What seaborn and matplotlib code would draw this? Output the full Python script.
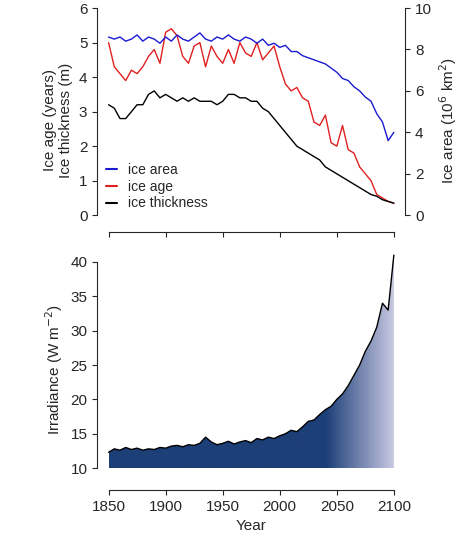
import matplotlib
matplotlib.use("Agg")
import matplotlib.pyplot as plt
import numpy as np
import seaborn as sns
from matplotlib.colors import LinearSegmentedColormap
from matplotlib.patches import Polygon

sns.set_style("ticks")
plt.rcParams["font.family"] = ["Liberation Sans", "DejaVu Sans"]

years = list(range(1850, 2101, 5))
ice_area = [8.6, 8.5, 8.6, 8.4, 8.5, 8.7, 8.4, 8.6, 8.5, 8.3, 8.6, 8.4, 8.7, 8.5,
            8.4, 8.6, 8.8, 8.5, 8.4, 8.6, 8.5, 8.7, 8.5, 8.4, 8.6, 8.5, 8.3, 8.5,
            8.2, 8.3, 8.1, 8.2, 7.9, 7.9, 7.7, 7.6, 7.5, 7.4, 7.3, 7.1, 6.9, 6.6,
            6.5, 6.2, 6.0, 5.7, 5.5, 4.9, 4.5, 3.6, 4.0]
ice_age = [5.0, 4.3, 4.1, 3.9, 4.2, 4.1, 4.3, 4.6, 4.8, 4.4, 5.3, 5.4, 5.2, 4.6,
           4.4, 4.9, 5.0, 4.3, 4.9, 4.6, 4.4, 4.8, 4.4, 5.0, 4.7, 4.6, 5.0, 4.5,
           4.7, 4.9, 4.3, 3.8, 3.6, 3.7, 3.4, 3.3, 2.7, 2.6, 2.9, 2.1, 2.0, 2.6,
           1.9, 1.8, 1.4, 1.2, 1.0, 0.6, 0.5, 0.4, 0.35]
ice_thick = [3.2, 3.1, 2.8, 2.8, 3.0, 3.2, 3.2, 3.5, 3.6, 3.4, 3.5, 3.4, 3.3, 3.4,
             3.3, 3.4, 3.3, 3.3, 3.3, 3.2, 3.3, 3.5, 3.5, 3.4, 3.4, 3.3, 3.3, 3.1,
             3.0, 2.8, 2.6, 2.4, 2.2, 2.0, 1.9, 1.8, 1.7, 1.6, 1.4, 1.3, 1.2, 1.1,
             1.0, 0.9, 0.8, 0.7, 0.6, 0.55, 0.45, 0.4, 0.35]
irradiance = [12.3, 12.8, 12.6, 13.0, 12.7, 12.9, 12.6, 12.8, 12.7, 13.0, 12.9, 13.2,
              13.3, 13.1, 13.4, 13.3, 13.6, 14.5, 13.8, 13.4, 13.6, 13.9, 13.5, 13.8,
              14.0, 13.7, 14.3, 14.1, 14.5, 14.3, 14.7, 15.0, 15.5, 15.3, 16.0, 16.8,
              17.0, 17.8, 18.5, 19.0, 20.0, 20.8, 22.0, 23.5, 25.0, 27.0, 28.5, 30.5,
              34.0, 33.0, 41.0]

fig = plt.figure(figsize=(4.74, 5.35), dpi=100)
ax1 = fig.add_axes([0.205, 0.566, 0.65, 0.419])
ax2 = ax1.twinx()
ax3 = fig.add_axes([0.205, 0.084, 0.65, 0.452])

sns.lineplot(x=years, y=ice_age, ax=ax1, color="#e02020", lw=1, legend=False)
sns.lineplot(x=years, y=ice_thick, ax=ax1, color="black", lw=1, legend=False)
sns.lineplot(x=years, y=ice_area, ax=ax2, color="#1a1ad0", lw=1, legend=False)

for a in (ax1, ax2, ax3):
    a.set_xlim(1840, 2110)
    a.spines["top"].set_visible(False)
ax1.set_ylim(-0.49, 6)
ax2.set_ylim(-0.82, 10)
ax1.set_yticks(range(0, 7))
ax2.set_yticks(range(0, 11, 2))
ax1.set_xticks(range(1850, 2101, 50))
ax1.set_xticklabels([])
ax1.spines["right"].set_visible(False)
ax1.spines["bottom"].set_bounds(1850, 2100)
ax1.spines["left"].set_bounds(0, 6)
ax2.spines["left"].set_visible(False)
ax2.spines["bottom"].set_visible(False)
ax2.spines["right"].set_bounds(0, 10)
ax1.set_ylabel("Ice age (years)\nIce thickness (m)", fontsize=11)
ax2.set_ylabel("Ice area (10$^6$ km$^2$)", fontsize=11)

handles = [plt.Line2D([], [], color="#1a1ad0"),
           plt.Line2D([], [], color="#e02020"),
           plt.Line2D([], [], color="black")]
ax1.legend(handles, ["ice area", "ice age", "ice thickness"], loc="lower left",
           bbox_to_anchor=(0.0, 0.06), frameon=False, fontsize=10,
           handlelength=0.8, borderaxespad=0.2, labelspacing=0.2)

# bottom: irradiance with gradient fill
ax3.set_ylim(6.8, 42)
cmap = LinearSegmentedColormap.from_list("irr", ["#1d3f78", "#1d3f78", "#c9c9e3"])
img = ax3.imshow(np.interp(np.linspace(1850, 2100, 256), [1850, 2040, 2100], [0, 0.5, 1]).reshape(1, -1),
                 extent=[1850, 2100, 10, 42], aspect="auto", cmap=cmap, vmin=0, vmax=1, zorder=1)
poly = Polygon(list(zip(years, irradiance)) + [(2100, 10), (1850, 10)], closed=True,
               transform=ax3.transData, facecolor="none", edgecolor="none")
ax3.add_patch(poly)
img.set_clip_path(poly)
sns.lineplot(x=years, y=irradiance, ax=ax3, color="black", lw=1, zorder=3)
ax3.set_xlim(1840, 2110)
ax3.set_ylim(6.8, 42)
ax3.set_xticks(range(1850, 2101, 50))
ax3.set_yticks(range(10, 41, 5))
ax3.spines["right"].set_visible(False)
ax3.spines["bottom"].set_bounds(1850, 2100)
ax3.spines["left"].set_bounds(10, 40)
ax3.set_ylabel("Irradiance (W m$^{-2}$)", fontsize=11)
ax3.set_xlabel("Year", fontsize=11)
for a in (ax1, ax2, ax3):
    a.tick_params(labelsize=11)

fig.savefig("out.png", dpi=100)
